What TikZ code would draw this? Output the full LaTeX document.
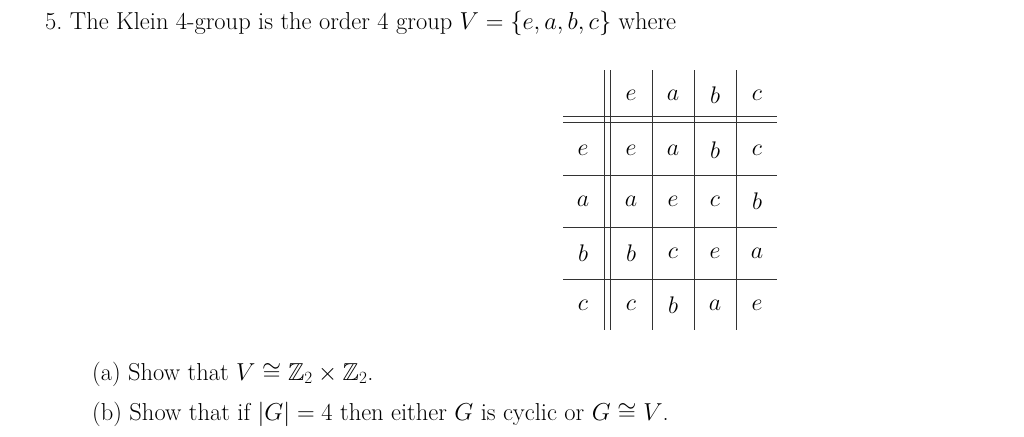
\documentclass[tikz,border=0pt]{standalone}
\usepackage{fix-cm}
\usepackage{amssymb}
\usepackage{fontspec}
\begin{document}
\begin{tikzpicture}[x=1pt,y=-1pt,
  txt/.style={anchor=base west,inner sep=0pt,font=\fontsize{24.5}{28}\selectfont},
  cell/.style={inner sep=0pt,font=\fontsize{24}{28}\selectfont},
  rule/.style={line width=0.9pt,black!80}]
\useasboundingbox (0,0) rectangle (1024,436);
\node[txt] (t1) at (45,30) {5.\ The Klein 4-group is the order 4 group $V=\{e,a,b,c\}$ where};
\node[txt] (t2) at (92,380) {(a) Show that $V\cong\mathbb{Z}_2\times\mathbb{Z}_2$.};
\node[txt] (t3) at (92,420) {(b) Show that if $|G|=4$ then either $G$ is cyclic or $G\cong V$.};
% table lines
\draw[rule] (604,70) -- (604,330);
\draw[rule] (610,70) -- (610,330);
\foreach \x in {652,694,736} \draw[rule] (\x,70) -- (\x,330);
\draw[rule] (563,116) -- (777,116);
\draw[rule] (563,122) -- (777,122);
\foreach \y in {175,227,279} \draw[rule] (563,\y) -- (777,\y);
% entries
\foreach \r/\yy/\l in {0/95/{,e,a,b,c},1/150/{e,e,a,b,c},2/201/{a,a,e,c,b},3/253/{b,b,c,e,a},4/305/{c,c,b,a,e}}{
  \foreach \s [count=\i from 0] in \l {
    \pgfmathsetmacro{\xx}{\i==0 ? 583 : 589+42*\i}
    \node[cell] (c\r\i) at (\xx,\yy) {$\s$};
  }
}
\end{tikzpicture}
\end{document}
